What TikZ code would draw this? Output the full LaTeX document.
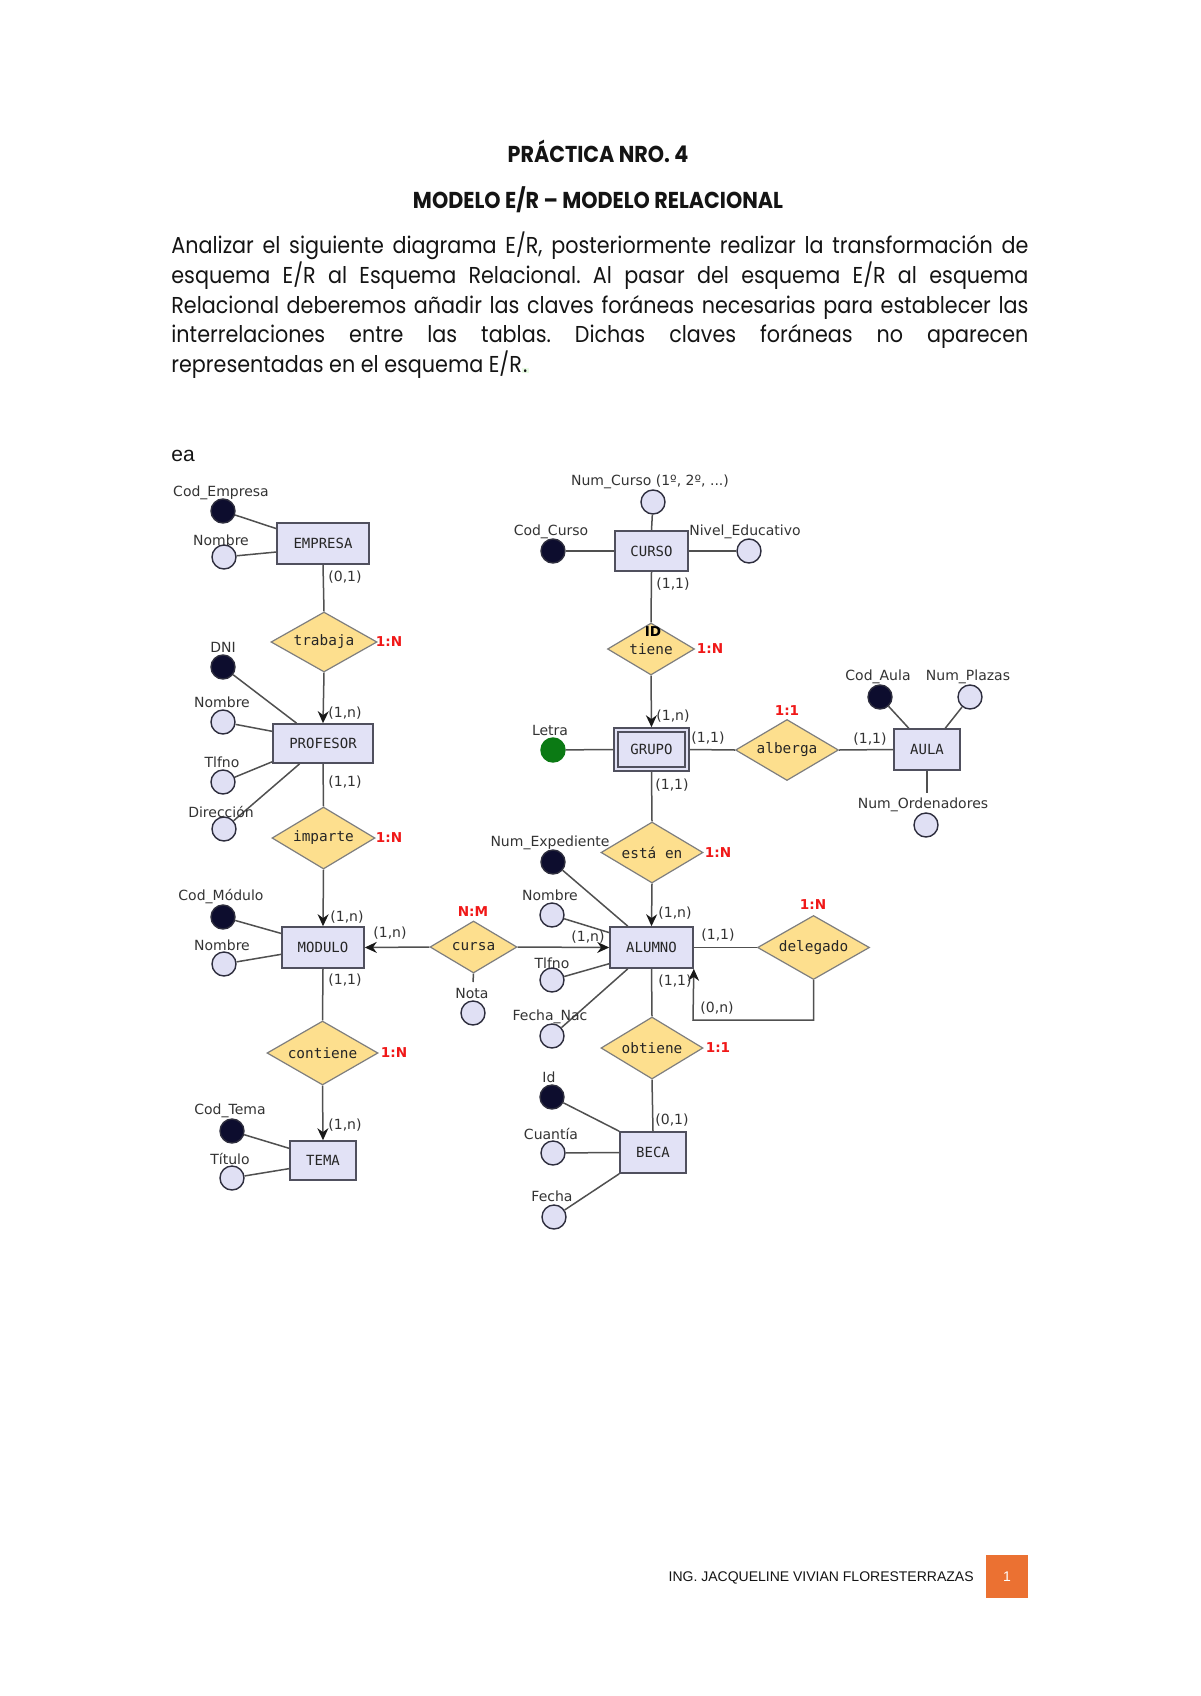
\documentclass[tikz,border=0pt]{standalone}
\usepackage{fontspec}
\setmainfont{Poppins}[FakeStretch=0.9]
\newfontfamily\dvsans{DejaVu Sans}
\newfontfamily\dvmono{DejaVu Sans Mono}
\newfontfamily\libsans{Liberation Sans}
\usetikzlibrary{shapes.geometric,arrows.meta,calc}
\definecolor{bodytxt}{HTML}{141414}
\definecolor{entf}{HTML}{E2E2F6}
\definecolor{entb}{HTML}{50505E}
\definecolor{relf}{HTML}{FDDF8E}
\definecolor{relb}{HTML}{7E7E7E}
\definecolor{attf}{HTML}{E0E0F4}
\definecolor{attb}{HTML}{2E2E3E}
\definecolor{keyf}{HTML}{0D0D2E}
\definecolor{grn}{HTML}{0B7A14}
\definecolor{linec}{HTML}{505050}
\definecolor{lblc}{HTML}{333333}
\definecolor{redc}{HTML}{F01818}
\definecolor{orng}{HTML}{EB7132}
\definecolor{hl}{HTML}{E8FBE4}
\frenchspacing
\begin{document}
\begin{tikzpicture}[x=0.5pt,y=-0.5pt,
  ent/.style={draw=entb, fill=entf, line width=0.8pt, inner sep=0pt, text=black!85, font=\dvmono\fontsize{7}{8}\selectfont},
  rel/.style={diamond, draw=relb, fill=relf, line width=0.6pt, inner sep=0pt, aspect=2, text=black!85, font=\dvmono\fontsize{7.2}{8}\selectfont},
  att/.style={circle, draw=attb, fill=attf, line width=0.7pt, minimum size=12pt, inner sep=0pt},
  keyatt/.style={att, fill=keyf},
  lbl/.style={font=\dvsans\fontsize{7}{8}\selectfont, text=lblc, inner sep=0pt},
  redl/.style={font=\dvsans\bfseries\fontsize{6.8}{8}\selectfont, text=redc, inner sep=0pt},
  con/.style={draw=linec, line width=0.75pt},
  arr/.style={con, -{Stealth[length=6pt,width=5.5pt,color=black!90]}},
  bodyfont/.style={font=\fontsize{11.5}{13}\selectfont, text=bodytxt, inner sep=0pt}
]
\useasboundingbox (0,0) rectangle (1200,1696);
\fill[white] (0,0) rectangle (1200,1696);

% ---------- header text ----------
\node[bodyfont, font=\fontsize{11.5}{13}\selectfont\bfseries, anchor=base] (t1) at (598,163) {PRÁCTICA NRO. 4};
\node[bodyfont, font=\fontsize{11.5}{13}\selectfont\bfseries, anchor=base] (t2) at (598,209) {MODELO E/R – MODELO RELACIONAL};
\node[bodyfont, anchor=base west] (p1) at (171,254) {\makebox[428.5pt][s]{Analizar el siguiente diagrama E/R, posteriormente realizar la transformación de}};
\node[bodyfont, anchor=base west] (p2) at (171,283.5) {\makebox[428.5pt][s]{esquema E/R al Esquema Relacional. Al pasar del esquema E/R al esquema}};
\node[bodyfont, anchor=base west] (p3) at (171,313) {\makebox[428.5pt][s]{Relacional deberemos añadir las claves foráneas necesarias para establecer las}};
\node[bodyfont, anchor=base west] (p4) at (171,342.5) {\makebox[428.5pt][s]{interrelaciones entre las tablas. Dichas claves foráneas no aparecen}};
\node[bodyfont, anchor=base west] (p5) at (171,372) {representadas en el esquema E/R{\setlength{\fboxsep}{0.6pt}\colorbox{hl}{.}}};
\node[font=\libsans\fontsize{10.5}{12}\selectfont, text=bodytxt, inner sep=0pt, anchor=base west] (ea) at (171,461) {ea};

% ---------- entities ----------
\node[ent, minimum width=46pt, minimum height=20.5pt] (emp) at (323,543.5) {EMPRESA};
\node[ent, minimum width=50pt, minimum height=19.5pt] (prof) at (323,743.5) {PROFESOR};
\node[ent, minimum width=41pt, minimum height=20.5pt] (mod) at (323,947.5) {MODULO};
\node[ent, minimum width=33pt, minimum height=19.5pt] (tema) at (323,1160.5) {TEMA};
\node[ent, minimum width=36.5pt, minimum height=20pt] (curso) at (651.5,551) {CURSO};
\node[ent, minimum width=37.5pt, minimum height=21.5pt] (grupo) at (651.5,749.5) {GRUPO};
\draw[entb, line width=0.6pt] ($(grupo.north west)+(2.4pt,-2.4pt)$) rectangle ($(grupo.south east)+(-2.4pt,2.4pt)$);
\node[ent, minimum width=33pt, minimum height=20.5pt] (aula) at (927,749.5) {AULA};
\node[ent, minimum width=41.5pt, minimum height=20.5pt] (alu) at (651.5,947.5) {ALUMNO};
\node[ent, minimum width=33pt, minimum height=20.5pt] (beca) at (653,1152.5) {BECA};

% ---------- relationships ----------
\node[rel, minimum width=53pt, minimum height=30pt] (trab) at (324,642) {trabaja};
\node[rel, minimum width=51.5pt, minimum height=31pt] (imp) at (323.5,838) {imparte};
\node[rel, minimum width=55.5pt, minimum height=32pt] (cont) at (322.5,1053) {contiene};
\node[rel, minimum width=43.5pt, minimum height=26pt] (curs) at (473.5,947) {cursa};
\node[rel, minimum width=43.5pt, minimum height=26pt] (tiene) at (651,649) {tiene};
\node[rel, minimum width=51.5pt, minimum height=30.5pt] (alb) at (787,750) {alberga};
\node[rel, minimum width=51pt, minimum height=30.5pt] (esta) at (652,852.5) {está en};
\node[rel, minimum width=56pt, minimum height=32pt] (del) at (813.5,947.5) {delegado};
\node[rel, minimum width=51pt, minimum height=31pt] (obt) at (652,1048) {obtiene};

% ---------- relationship connectors ----------
\draw[con] (emp.south) -- (trab.north);
\draw[arr] (trab.south) -- (prof.north);
\draw[con] (prof.south) -- (imp.north);
\draw[arr] (imp.south) -- (mod.north);
\draw[con] (mod.south) -- (cont.north);
\draw[arr] (cont.south) -- (tema.north);
\draw[arr] (curs.west) -- (mod.east);
\draw[arr] (curs.east) -- (alu.west);
\draw[con] (curso.south) -- (tiene.north);
\draw[arr] (tiene.south) -- (grupo.north);
\draw[con] (grupo.east) -- (alb.west);
\draw[con] (alb.east) -- (aula.west);
\draw[con] (grupo.south) -- (esta.north);
\draw[arr] (esta.south) -- (alu.north);
\draw[con] (alu.east) -- (del.west);
\coordinate (lp) at (693,1020);
\draw[arr] (del.south) |- (lp) -- (alu.south east);
\draw[con] (alu.south) -- (obt.north);
\draw[con] (obt.south) -- (beca.north);
\coordinate (notatop) at (473,982);
\draw[con] (curs.south) -- (notatop);
\coordinate (ordtop) at (927,793);
\draw[con] (aula.south) -- (ordtop);

% ---------- attributes ----------
\node[keyatt] (a1) at (223,511) {};
\node[att] (a2) at (224,557) {};
\node[keyatt] (a3) at (223,667) {};
\node[att] (a4) at (223,722) {};
\node[att] (a5) at (223,782) {};
\node[att] (a6) at (224,829) {};
\node[keyatt] (a7) at (223,917) {};
\node[att] (a8) at (224,964) {};
\node[keyatt] (a9) at (232,1131) {};
\node[att] (a10) at (232,1178) {};
\node[att] (a11) at (653,502) {};
\node[keyatt] (a12) at (553,551) {};
\node[att] (a13) at (749,551) {};
\node[att, fill=grn, draw=grn] (a14) at (553,750) {};
\node[keyatt] (a15) at (880,697) {};
\node[att] (a16) at (970,697) {};
\node[att] (a17) at (926,825) {};
\node[att] (a18) at (473,1013) {};
\node[keyatt] (a19) at (553,862) {};
\node[att] (a20) at (552,915) {};
\node[att] (a21) at (552,980) {};
\node[att] (a22) at (552,1036) {};
\node[keyatt] (a23) at (552,1097) {};
\node[att] (a24) at (553,1153) {};
\node[att] (a25) at (554,1217) {};

\draw[con] (a1) -- ($(emp.north west)!0.15!(emp.south west)$);
\draw[con] (a2) -- ($(emp.north west)!0.7!(emp.south west)$);
\draw[con] (a3) -- ($(prof.north west)!0.24!(prof.north east)$);
\draw[con] (a4) -- ($(prof.north west)!0.2!(prof.south west)$);
\draw[con] (a5) -- ($(prof.north west)!0.95!(prof.south west)$);
\draw[con] (a6) -- ($(prof.south west)!0.27!(prof.south east)$);
\draw[con] (a7) -- ($(mod.north west)!0.17!(mod.south west)$);
\draw[con] (a8) -- ($(mod.north west)!0.66!(mod.south west)$);
\draw[con] (a9) -- ($(tema.north west)!0.2!(tema.south west)$);
\draw[con] (a10) -- ($(tema.north west)!0.7!(tema.south west)$);
\draw[con] (a11) -- (curso.north);
\draw[con] (a12) -- (curso.west);
\draw[con] (a13) -- (curso.east);
\draw[con] (a14) -- (grupo.west);
\draw[con] (a15) -- ($(aula.north west)!0.23!(aula.north east)$);
\draw[con] (a16) -- ($(aula.north west)!0.77!(aula.north east)$);
\draw[con] (a19) -- ($(alu.north west)!0.22!(alu.north east)$);
\draw[con] (a20) -- ($(alu.north west)!0.15!(alu.south west)$);
\draw[con] (a21) -- ($(alu.north west)!0.88!(alu.south west)$);
\draw[con] (a22) -- ($(alu.south west)!0.22!(alu.south east)$);
\draw[con] (a23) -- (beca.north west);
\draw[con] (a24) -- (beca.west);
\draw[con] (a25) -- (beca.south west);

% ---------- attribute labels ----------
\node[lbl] (l1) at (221,493) {Cod\_Empresa};
\node[lbl] (l2) at (221,540) {Nombre};
\node[lbl] (l3) at (223,647) {DNI};
\node[lbl] (l4) at (222,702) {Nombre};
\node[lbl] (l5) at (222,762) {Tlfno};
\node[lbl] (l6) at (221,812) {Dirección};
\node[lbl] (l7) at (221,897) {Cod\_Módulo};
\node[lbl] (l8) at (222,945) {Nombre};
\node[lbl] (l9) at (230,1111) {Cod\_Tema};
\node[lbl] (l10) at (230,1159) {Título};
\node[lbl] (l11) at (650,482) {Num\_Curso (1º, 2º, ...)};
\node[lbl] (l12) at (551,532) {Cod\_Curso};
\node[lbl] (l13) at (745,532) {Nivel\_Educativo};
\node[lbl] (l14) at (550,730) {Letra};
\node[lbl] (l15) at (878,677) {Cod\_Aula};
\node[lbl] (l16) at (968,677) {Num\_Plazas};
\node[lbl] (l17) at (923,805) {Num\_Ordenadores};
\node[lbl] (l18) at (472,993) {Nota};
\node[lbl] (l19) at (550,843) {Num\_Expediente};
\node[lbl] (l20) at (550,895) {Nombre};
\node[lbl] (l21) at (552,963) {Tlfno};
\node[lbl] (l22) at (550,1017) {Fecha\_Nac};
\node[lbl] (l23) at (549,1077) {Id};
\node[lbl] (l24) at (551,1134) {Cuantía};
\node[lbl] (l25) at (552,1196) {Fecha};

% ---------- cardinalities ----------
\node[lbl] (c1) at (345,577) {(0,1)};
\node[lbl] (c2) at (345,713) {(1,n)};
\node[lbl] (c3) at (345,782) {(1,1)};
\node[lbl] (c4) at (347,917) {(1,n)};
\node[lbl] (c5) at (390,933) {(1,n)};
\node[lbl] (c6) at (345,980) {(1,1)};
\node[lbl] (c7) at (345,1125) {(1,n)};
\node[lbl] (c8) at (673,584) {(1,1)};
\node[lbl] (c9) at (673,716) {(1,n)};
\node[lbl] (c10) at (708,738) {(1,1)};
\node[lbl] (c11) at (870,739) {(1,1)};
\node[lbl] (c12) at (672,785) {(1,1)};
\node[lbl] (c13) at (675,913) {(1,n)};
\node[lbl] (c14) at (588,937) {(1,n)};
\node[lbl] (c15) at (718,935) {(1,1)};
\node[lbl] (c16) at (675,981) {(1,1)};
\node[lbl] (c17) at (717,1008) {(0,n)};
\node[lbl] (c18) at (672,1120) {(0,1)};

% ---------- red cardinality ratios ----------
\node[redl] (r1) at (389,642) {1:N};
\node[redl] (r2) at (389,838) {1:N};
\node[redl] (r3) at (394,1053) {1:N};
\node[redl] (r4) at (473,912) {N:M};
\node[redl] (r5) at (710,649) {1:N};
\node[redl] (r6) at (787,711) {1:1};
\node[redl] (r7) at (718,853) {1:N};
\node[redl] (r8) at (813,905) {1:N};
\node[redl] (r9) at (718,1048) {1:1};
\node[redl, text=black] (idl) at (653,632) {ID};

% ---------- footer ----------
\node[font=\libsans\fontsize{7}{8}\selectfont, text=bodytxt, inner sep=0pt, anchor=base east] (ft) at (974,1581) {ING. JACQUELINE VIVIAN FLORESTERRAZAS};
\node[fill=orng, minimum width=21pt, minimum height=21.5pt, inner sep=0pt, text=white, font=\libsans\fontsize{7}{8}\selectfont] (pg) at (1007,1576.5) {1};
\end{tikzpicture}
\end{document}
